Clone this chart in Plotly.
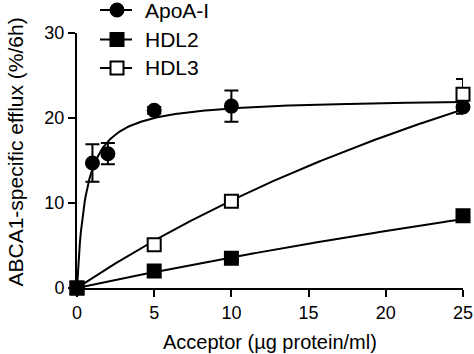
import numpy as np
import plotly.graph_objects as go

# ---- data ----
x_apoa = [0, 1, 2, 5, 10, 25]
y_apoa = [0, 14.7, 15.8, 20.9, 21.4, 21.3]
e_apoa = [0, 2.2, 1.25, 0.4, 1.85, 0.8]

x_hdl2 = [0, 5, 10, 25]
y_hdl2 = [0, 2.0, 3.5, 8.5]
e_hdl2 = [0, 0.3, 0.3, 0.4]

x_hdl3 = [0, 5, 10, 25]
y_hdl3 = [0, 5.1, 10.2, 22.8]
e_hdl3 = [0, 0.4, 0.5, 1.8]

# hyperbolic fit parameters (Bmax, Kd) of the drawn curves
fit_apoa = (22.4, 0.6)
fit_hdl2 = (48.6, 125.0)
fit_hdl3 = (68.5, 56.5)

x_ticks = [0, 5, 10, 15, 20, 25]
y_ticks = [0, 10, 20, 30]

series_names = ["ApoA-I", "HDL2", "HDL3"]

FONT = "Arial, Liberation Sans, sans-serif"
BLACK = "#000000"

# layout geometry (pixels)
W, H = 474, 354
ML, MR, MT, MB = 77, 11, 33, 66
PW, PH = W - ML - MR, H - MT - MB

def px_x(p):
    return (p - ML) / PW

def px_y(p):
    return (H - MB - p) / PH

xs = np.linspace(0, 25, 400)
def hyper(p):
    bmax, kd = p
    return bmax * xs / (kd + xs)

fig = go.Figure()

# fitted curves
for p in (fit_apoa, fit_hdl3, fit_hdl2):
    fig.add_trace(go.Scatter(x=xs, y=hyper(p), mode="lines",
                             line=dict(color=BLACK, width=2),
                             showlegend=False, hoverinfo="skip",
                             cliponaxis=False))

def data_trace(name, x, y, e, symbol, fill):
    return go.Scatter(
        x=x, y=y, mode="markers", name=name, showlegend=False, cliponaxis=False,
        marker=dict(symbol=symbol, size=13, color=fill,
                    line=dict(color=BLACK, width=2)),
        error_y=dict(type="data", array=e, visible=True, color=BLACK,
                     thickness=2, width=7))

fig.add_trace(data_trace(series_names[0], x_apoa, y_apoa, e_apoa, "circle", BLACK))
fig.add_trace(data_trace(series_names[2], x_hdl3, y_hdl3, e_hdl3, "square", "white"))
fig.add_trace(data_trace(series_names[1], x_hdl2, y_hdl2, e_hdl2, "square", BLACK))

# manual legend (key line + marker shape + text)
shapes = []
annotations = []
leg_rows = [10, 39.5, 68]
leg_styles = [("circle", BLACK), ("rect", BLACK), ("rect", "white")]
for name, row, (kind, fill) in zip(series_names, leg_rows, leg_styles):
    yy = px_y(row)
    shapes.append(dict(type="line", xref="paper", yref="paper",
                       x0=px_x(100), x1=px_x(132), y0=yy, y1=yy,
                       line=dict(color=BLACK, width=2)))
    shapes.append(dict(type=kind, xref="paper", yref="paper",
                       xsizemode="pixel", ysizemode="pixel",
                       xanchor=px_x(117), yanchor=yy,
                       x0=-6.5, x1=6.5, y0=-6.5, y1=6.5,
                       fillcolor=fill, line=dict(color=BLACK, width=2)))
    annotations.append(dict(text=name, xref="paper", yref="paper",
                            x=px_x(143), y=yy, xanchor="left", yanchor="middle",
                            showarrow=False, font=dict(size=21, family=FONT)))

annotations += [
    dict(text="Acceptor (\u00b5g protein/ml)", xref="paper", yref="paper",
         x=0.5, y=0, yshift=-54, showarrow=False, xanchor="center",
         yanchor="middle", font=dict(size=20, family=FONT)),
    dict(text="ABCA1-specific efflux (%/6h)", xref="paper", yref="paper",
         x=0, xshift=-62, y=0.5, yshift=8, showarrow=False, textangle=-90,
         xanchor="center", yanchor="middle", font=dict(size=21, family=FONT)),
]

fig.update_layout(
    width=W, height=H,
    margin=dict(l=ML, r=MR, t=MT, b=MB, autoexpand=False),
    paper_bgcolor="white", plot_bgcolor="white",
    font=dict(family=FONT, color=BLACK, size=18),
    showlegend=False,
    xaxis=dict(range=[0, 25], tickvals=x_ticks, ticks="outside", ticklen=7,
               tickwidth=2, tickcolor=BLACK, showline=True, linewidth=2,
               linecolor=BLACK, showgrid=False, zeroline=False,
               tickfont=dict(size=18, family=FONT)),
    yaxis=dict(range=[0, 30], tickvals=y_ticks, ticks="outside", ticklen=7,
               tickwidth=2, tickcolor=BLACK, showline=True, linewidth=2,
               linecolor=BLACK, showgrid=False, zeroline=False,
               tickfont=dict(size=18, family=FONT)),
    shapes=shapes,
    annotations=annotations,
)

fig.write_html("out.html")
